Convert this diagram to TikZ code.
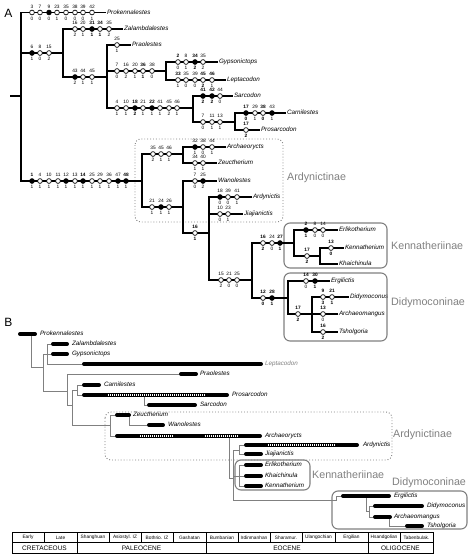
\documentclass[tikz,border=0pt]{standalone}
\usepackage{fontspec}
\setmainfont{Liberation Sans}
\definecolor{boxgray}{gray}{0.5}
\definecolor{grpgray}{gray}{0.5}
\definecolor{lgray}{gray}{0.5}
\tikzset{
  tree/.style={line width=1.1pt},
  trt/.style={draw, line width=0.65pt, circle, inner sep=0pt, minimum size=4.8pt},
  num/.style={font=\fontsize{4.8}{5}\selectfont, inner sep=0pt},
  taxon/.style={font=\fontsize{6.3}{7}\selectfont\itshape, anchor=west, inner sep=0.8pt, text height=4.5pt, text depth=1.3pt},
  grp/.style={font=\fontsize{10.7}{12}\selectfont, text=grpgray, anchor=west, inner sep=0pt},
  grpbox/.style={draw=boxgray, line width=1.1pt, rounded corners=6pt},
  dotbox/.style={draw=boxgray, line width=0.9pt, dotted, rounded corners=6pt},
  gline/.style={draw=lgray, line width=0.65pt},
  phbarst/.style={line width=4.2pt, line cap=round},
  tcell/.style={font=\fontsize{4.8}{5}\selectfont, inner sep=0pt},
  tera/.style={font=\fontsize{6.5}{7}\selectfont, inner sep=0pt},
  plab/.style={font=\fontsize{12}{12}\selectfont, inner sep=0pt},
}
\newcommand\traitrow[3]{%
  \foreach \tx/\tn/\ts/\tfl [count=\ti] in {#3} {
    \node[num] (#1n\ti) at (\tx,#2-5.8) {\tn};
    \node[num] (#1s\ti) at (\tx,#2+6.2) {\ts};
    \node[trt, fill=\tfl] (#1c\ti) at (\tx,#2) {};
  }%
}
\newcommand\phbar[3]{\draw[phbarst] (#2+2.1,#1) -- (#3-2.1,#1);}
\newcommand\phstripe[3]{%
  \fill[white] (#2,#1-1.25) rectangle (#3,#1+1.25);
  \pgfmathtruncatemacro\nstripes{(#3-#2)/2}
  \foreach \k in {1,...,\nstripes} {\draw[line width=0.9pt] ({#2+2*\k-1},#1-1.3) -- ({#2+2*\k-1},#1+1.3);}
}
\begin{document}
\begin{tikzpicture}[x=1pt,y=-1pt]
\useasboundingbox (0,0) rectangle (474,557);
% ---------------- Panel A ----------------
\node[plab] (labA) at (8.5,13.5) {A};
\node[taxon] (aProk) at (106,12.5) {Prokennalestes};
\node[taxon] (aZal) at (123,29) {Zalambdalestes};
\node[taxon] (aPrao) at (131,45) {Praolestes};
\node[taxon] (aGyps) at (218,62) {Gypsonictops};
\node[taxon] (aLept) at (226,80) {Leptacodon};
\node[taxon] (aSarc) at (233,96) {Sarcodon};
\node[taxon] (aCarn) at (286,113) {Carnilestes};
\node[taxon] (aPros) at (260,130) {Prosarcodon};
\node[taxon] (aArch) at (226,147) {Archaeorycts};
\node[taxon] (aZeuc) at (217,163) {Zeuctherium};
\node[taxon] (aWano) at (217,181) {Wanolestes};
\node[taxon] (aArdy) at (252,197) {Ardynictis};
\node[taxon] (aJiaj) at (243,214) {Jiajianictis};
\node[taxon] (aErli) at (338,230) {Erlikotherium};
\node[taxon] (aKenn) at (344,248) {Kennatherium};
\node[taxon] (aKhai) at (338,264) {Khaichinula};
\node[taxon] (aErgi) at (330,281) {Ergilictis};
\node[taxon] (aDidy) at (349,297) {Didymoconus};
\node[taxon] (aArcm) at (338,314) {Archaeomangus};
\node[taxon] (aTsho) at (338,332) {Tsholgoria};
% group boxes
\draw[dotbox] (135,139) rectangle (283,222);
\draw[grpbox] (284,223) rectangle (387,268);
\draw[grpbox] (284,273) rectangle (387,341);
\node[grp] (gArdA) at (287,178) {Ardynictinae};
\node[grp] (gKenA) at (391,246) {Kennatheriinae};
\node[grp] (gDidA) at (391,303) {Didymoconinae};
% tree
\coordinate (Aroot) at (10,96);
\coordinate (A0) at (21,96);
\coordinate (n1) at (63,53);
\coordinate (n2) at (107,77);
\coordinate (n3) at (166,71);
\coordinate (n4) at (193,108);
\coordinate (n5) at (235,122);
\coordinate (n6) at (142,181);
\coordinate (n7) at (183,154);
\coordinate (n8) at (183,207);
\coordinate (n9) at (209,233);
\coordinate (n10) at (252,280);
\coordinate (n11) at (294,243);
\coordinate (n12) at (320,256);
\coordinate (n13) at (288,298);
\coordinate (n14) at (312,314);
\draw[tree] (Aroot) -- (A0);
\draw[tree] (A0) |- (aProk.west);
\draw[tree] (A0) |- (n1);
\draw[tree] (n1) |- (aZal.west);
\draw[tree] (n1) |- (n2);
\draw[tree] (n2) |- (aPrao.west);
\draw[tree] (n2) |- (n3);
\draw[tree] (n3) |- (aGyps.west);
\draw[tree] (n3) |- (aLept.west);
\draw[tree] (n2) |- (n4);
\draw[tree] (n4) |- (aSarc.west);
\draw[tree] (n4) |- (n5);
\draw[tree] (n5) |- (aCarn.west);
\draw[tree] (n5) |- (aPros.west);
\draw[tree] (A0) |- (n6);
\draw[tree] (n6) |- (n7);
\draw[tree] (n7) |- (aArch.west);
\draw[tree] (n7) |- (aZeuc.west);
\draw[tree] (n6) |- (n8);
\draw[tree] (n8) |- (aWano.west);
\draw[tree] (n8) |- (n9);
\draw[tree] (n9) |- (aArdy.west);
\draw[tree] (n9) |- (aJiaj.west);
\draw[tree] (n9) |- (n10);
\draw[tree] (n10) |- (n11);
\draw[tree] (n11) |- (aErli.west);
\draw[tree] (n11) |- (n12);
\draw[tree] (n12) |- (aKenn.west);
\draw[tree] (n12) |- (aKhai.west);
\draw[tree] (n10) |- (n13);
\draw[tree] (n13) |- (aErgi.west);
\draw[tree] (n13) |- (n14);
\draw[tree] (n14) |- (aDidy.west);
\draw[tree] (n14) |- (aArcm.west);
\draw[tree] (n14) |- (aTsho.west);
% character states
\traitrow{ra}{12.5}{32/3/0/white,40/7/0/white,49/9/0/black,57/23/1/white,66/35/0/white,75/38/0/white,83/39/0/white,92/42/1/white}
\traitrow{rb}{53}{32/6/1/black,40/8/0/white,49/15/2/white}
\traitrow{rc}{29}{75/16/2/white,83/20/1/white,92/\textbf{31}/\textbf{1}/black,100/\textbf{34}/\textbf{1}/white,109/35/2/white}
\traitrow{rd}{77}{75/43/2/black,83/44/1/white,92/45/1/white}
\traitrow{re}{45}{117/25/1/white}
\traitrow{rf}{71}{117/7/0/white,126/16/2/white,135/20/1/white,143/\textbf{36}/\textbf{1}/white,152/38/0/white}
\traitrow{rg}{62}{178/\textbf{2}/0/white,186/8/1/white,195/\textbf{34}/\textbf{2}/black,203/35/2/white}
\traitrow{rh}{80}{178/\textbf{33}/1/white,186/35/0/white,195/39/0/white,203/\textbf{45}/\textbf{2}/white,212/\textbf{46}/1/white}
\traitrow{ri}{108}{117/4/1/white,126/10/1/white,135/\textbf{18}/\textbf{2}/black,143/21/1/white,152/\textbf{22}/1/black,160/41/1/white,169/45/2/white,177/46/1/white}
\traitrow{rj}{96}{203/\textbf{41}/\textbf{2}/black,212/\textbf{42}/\textbf{2}/black,220/44/0/white}
\traitrow{rk}{122}{203/7/0/white,212/11/1/white,220/13/1/white}
\traitrow{rl}{113}{246/\textbf{17}/\textbf{0}/black,255/29/1/white,263/\textbf{38}/\textbf{0}/white,272/43/1/black}
\traitrow{rm}{130}{246/\textbf{17}/\textbf{2}/white}
\traitrow{rn}{181}{32/\textbf{1}/1/black,40/4/1/white,49/10/1/white,58/11/1/white,66/12/1/black,75/13/1/white,83/\textbf{14}/1/black,92/25/1/white,100/29/1/white,109/36/1/white,118/47/1/black,126/\textbf{48}/1/black}
\traitrow{ro}{154}{153/35/2/white,161/45/1/white,169/46/1/white}
\traitrow{rp}{147}{195/32/1/black,203/38/0/white,212/44/1/white}
\traitrow{rq}{163}{195/34/1/white,203/40/1/white}
\traitrow{rr}{207}{152/21/1/white,161/24/1/black,169/26/1/white}
\traitrow{rs}{181}{195/7/0/white,203/25/2/black}
\traitrow{rt}{233}{195/\textbf{16}/\textbf{1}/white}
\traitrow{ru}{197}{220/18/0/black,228/39/0/white,237/41/1/white}
\traitrow{rv}{214}{220/10/0/white,228/23/1/white}
\traitrow{rw}{280}{221/15/2/white,229/21/0/white,237/25/0/white}
\traitrow{rx}{243}{263/\textbf{16}/\textbf{2}/white,272/24/0/white,280/\textbf{27}/\textbf{1}/black}
\traitrow{ry}{230}{306/\textbf{2}/\textbf{1}/black,315/8/0/white,323/14/0/white}
\traitrow{rz}{256}{307/\textbf{17}/\textbf{2}/white}
\traitrow{rA}{248}{331/\textbf{13}/\textbf{0}/white}
\traitrow{rB}{298}{263/\textbf{12}/\textbf{0}/white,272/\textbf{28}/\textbf{1}/black}
\traitrow{rC}{281}{306/\textbf{14}/0/white,315/\textbf{30}/\textbf{1}/black}
\traitrow{rD}{314}{298/\textbf{17}/\textbf{2}/white}
\traitrow{rE}{297}{323/\textbf{9}/\textbf{3}/white,332/\textbf{21}/\textbf{1}/white}
\traitrow{rF}{314}{323/\textbf{13}/0/white}
\traitrow{rG}{332}{323/\textbf{16}/\textbf{2}/white}
% ---------------- Panel B ----------------
\node[plab] (labB) at (8.5,322) {B};
\node[taxon] (bProk) at (39,334) {Prokennalestes};
\node[taxon] (bZal) at (71,344) {Zalambdalestes};
\node[taxon] (bGyps) at (71,354) {Gypsonictops};
\node[taxon, text=gray] (bLept) at (264,364) {Leptacodon};
\node[taxon] (bPrao) at (199,374) {Praolestes};
\node[taxon] (bCarn) at (103,385) {Carnilestes};
\node[taxon] (bPros) at (231,395) {Prosarcodon};
\node[taxon] (bSarc) at (199,405) {Sarcodon};
\node[taxon] (bZeuc) at (132,415) {Zeuctherium};
\node[taxon] (bWano) at (167,425) {Wanolestes};
\node[taxon] (bArch) at (264,436) {Archaeorycts};
\node[taxon] (bArdy) at (362,445) {Ardynictis};
\node[taxon] (bJiaj) at (264,454) {Jiajianictis};
\node[taxon] (bErli) at (264,465) {Erlikotherium};
\node[taxon] (bKhai) at (264,476) {Khaichinula};
\node[taxon] (bKenn) at (264,486) {Kennatherium};
\node[taxon] (bErgi) at (393,496) {Ergilictis};
\node[taxon] (bDidy) at (426,506) {Didymoconus};
\node[taxon] (bArcm) at (393,517) {Archaeomangus};
\node[taxon] (bTsho) at (426,526) {Tsholgoria};
% boxes
\draw[dotbox] (105,412) rectangle (392,460);
\draw[grpbox] (235,460) rectangle (310,490);
\draw[grpbox] (332,491) rectangle (467,529);
\node[grp] (gArdB) at (393,435) {Ardynictinae};
\node[grp] (gKenB) at (312,475) {Kennatheriinae};
\node[grp] (gDidB) at (392,483) {Didymoconinae};
% gray tree
\draw[gline] (31,334) -- (31,367) -- (43,367);
\draw[gline] (43,354) -- (43,391);
\draw[gline] (43,354) -- (47,354);
\draw[gline] (47,344) -- (47,364);
\draw[gline] (47,344) -- (51,344);
\draw[gline] (47,354) -- (51,354);
\draw[gline] (47,364) -- (82,364);
\draw[gline] (43,391) -- (67,391);
\draw[gline] (67,374) -- (67,405);
\draw[gline] (67,374) -- (179,374);
\draw[gline] (67,405) -- (72,405);
\draw[gline] (72,390) -- (72,425);
\draw[gline] (72,390) -- (77,390);
\draw[gline] (77,385) -- (77,395);
\draw[gline] (77,385) -- (82,385);
\draw[gline] (77,395) -- (82,395);
\draw[gline] (144,395) -- (144,405) -- (147,405);
\draw[gline] (72,425) -- (110,425);
\draw[gline] (110,415) -- (110,436);
\draw[gline] (110,415) -- (115,415);
\draw[gline] (110,436) -- (115,436);
\draw[gline] (129,415) -- (129,425) -- (147,425);
\draw[gline] (229,436) -- (229,478) -- (233,478);
\draw[gline] (233,450) -- (233,500);
\draw[gline] (233,450) -- (239,450);
\draw[gline] (239,445) -- (239,454);
\draw[gline] (239,445) -- (244,445);
\draw[gline] (239,454) -- (244,454);
\draw[gline] (233,476) -- (239,476);
\draw[gline] (239,465) -- (239,486);
\draw[gline] (239,465) -- (244,465);
\draw[gline] (239,476) -- (244,476);
\draw[gline] (239,486) -- (244,486);
\draw[gline] (233,500) -- (336,500) -- (336,496) -- (341,496);
\draw[gline] (366,496) -- (366,511) -- (369,511);
\draw[gline] (369,506) -- (369,517);
\draw[gline] (369,506) -- (373,506);
\draw[gline] (369,517) -- (373,517);
\draw[gline] (389,517) -- (389,526) -- (405,526);
% bars
\phbar{334}{18}{37}
\phbar{344}{51}{69}
\phbar{354}{51}{69}
\phbar{364}{82}{263}
\phbar{374}{179}{198}
\phbar{385}{82}{101}
\phbar{395}{82}{229}
\phstripe{395}{108}{206}
\phbar{405}{147}{197}
\phbar{415}{115}{131}
\phbar{425}{147}{165}
\phbar{436}{115}{262}
\phstripe{436}{140}{173}
\phstripe{436}{205}{239}
\phbar{445}{244}{359}
\phstripe{445}{268}{336}
\phbar{454}{244}{263}
\phbar{465}{244}{263}
\phbar{476}{244}{263}
\phbar{486}{244}{263}
\phbar{496}{341}{391}
\phbar{506}{373}{424}
\phbar{517}{373}{392}
\phbar{526}{405}{424}
% time scale
\draw[line width=0.6pt] (12,532) rectangle (433,553);
\draw[line width=0.6pt] (12,542.5) -- (433,542.5);
\foreach \xx in {44,77,109,141,173,206,238,270,302,335,368,400} {\draw[line width=0.6pt] (\xx,532) -- (\xx,542.5);}
\foreach \xx in {77,206,368} {\draw[line width=0.6pt] (\xx,542.5) -- (\xx,553);}
\foreach \xc/\lab [count=\ci] in {28/Early,60.5/Late,93/Shanghuan,125/Asiostyl. IZ,157/Bothrio. IZ,189.5/Gashatan,222/Bumbanian,254/Irdinmanhan,286/Sharamur.,318.5/Ulangochian,351.5/Ergilian,384/Hsandgolian,416.5/Tabenbulak.}
  {\node[tcell] (tc\ci) at (\xc,537.4) {\lab};}
\node[tera] (eraK) at (44.5,548) {CRETACEOUS};
\node[tera] (eraP) at (141.5,548) {PALEOCENE};
\node[tera] (eraE) at (287,548) {EOCENE};
\node[tera] (eraO) at (400.5,548) {OLIGOCENE};
\end{tikzpicture}
\end{document}
